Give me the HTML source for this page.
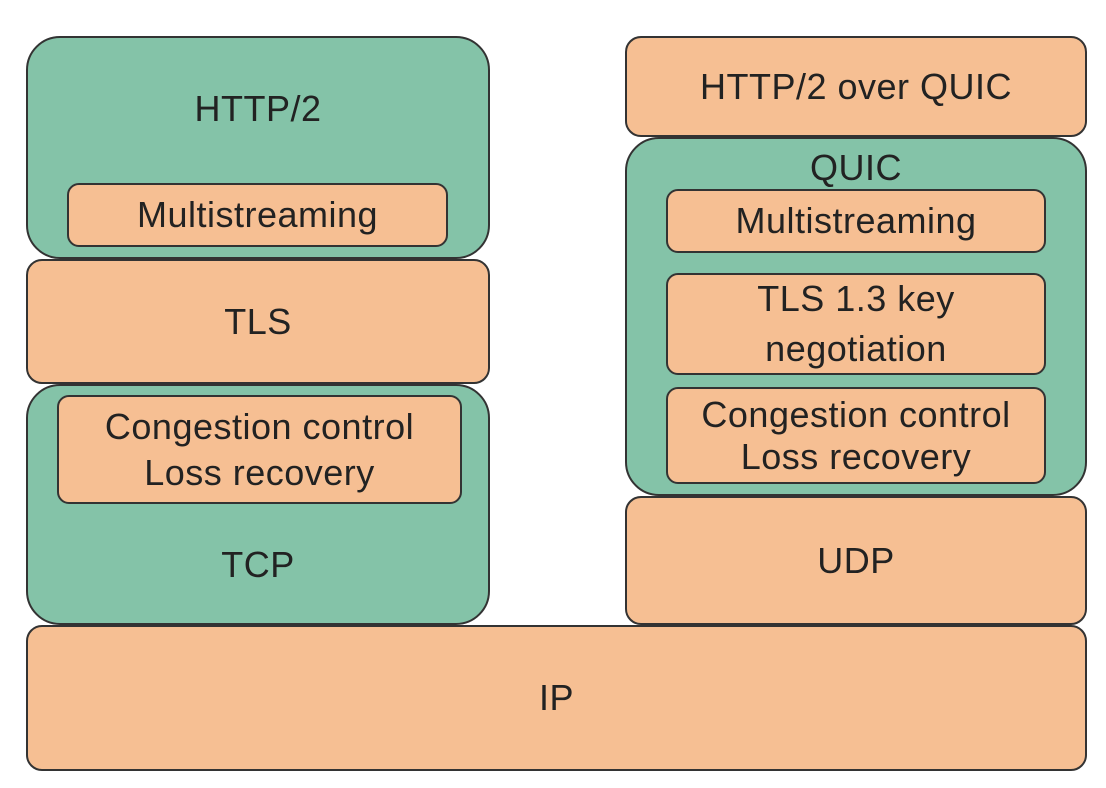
<!DOCTYPE html>
<html><head><style>
html,body{margin:0;padding:0;background:#fff;}
body{width:1106px;height:788px;position:relative;overflow:hidden;font-family:"Liberation Sans",sans-serif;color:#222;}
.b{position:absolute;box-sizing:border-box;border:2px solid #333;display:flex;align-items:center;justify-content:center;text-align:center;font-size:36px;letter-spacing:0.5px;line-height:46px;}
.g{background:#84c3a8;border-radius:34px;}
.o{background:#f6bf93;border-radius:16px;}
.o.s{border-radius:12px;}
.t{position:absolute;font-size:36px;text-align:center;width:100%;left:0;}
</style></head><body>
<div class="b g" style="left:26px;top:36px;width:464px;height:223px;"><div class="t" style="top:48px;">HTTP/2</div></div>
<div class="b o s" style="left:67px;top:183px;width:381px;height:64px;">Multistreaming</div>
<div class="b o" style="left:26px;top:259px;width:464px;height:125px;">TLS</div>
<div class="b g" style="left:26px;top:384px;width:464px;height:241px;"><div class="t" style="top:156px;">TCP</div></div>
<div class="b o s" style="left:57px;top:395px;width:405px;height:109px;">Congestion control<br>Loss recovery</div>
<div class="b o" style="left:26px;top:625px;width:1061px;height:146px;">IP</div>
<div class="b o" style="left:625px;top:36px;width:462px;height:101px;">HTTP/2 over QUIC</div>
<div class="b g" style="left:625px;top:137px;width:462px;height:359px;"><div class="t" style="top:6px;">QUIC</div></div>
<div class="b o s" style="left:666px;top:189px;width:380px;height:64px;">Multistreaming</div>
<div class="b o s" style="left:666px;top:273px;width:380px;height:102px;line-height:50px;">TLS 1.3 key<br>negotiation</div>
<div class="b o s" style="left:666px;top:387px;width:380px;height:97px;line-height:42px;">Congestion control<br>Loss recovery</div>
<div class="b o" style="left:625px;top:496px;width:462px;height:129px;">UDP</div>
</body></html>
